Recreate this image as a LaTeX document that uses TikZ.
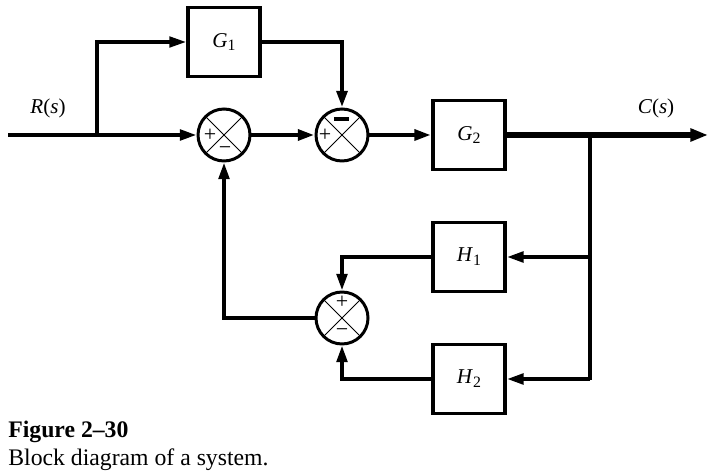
\documentclass[tikz,border=0pt]{standalone}
\usepackage{fontspec}
\setmainfont{Liberation Serif}
\usetikzlibrary{arrows.meta}
\newcommand{\sub}[2]{\textit{#1}\raisebox{-0.4ex}{\fontsize{9}{9}\selectfont #2}}
\begin{document}
\begin{tikzpicture}[x=0.02cm,y=-0.02cm,
  ln/.style={line width=2.1pt},
  >={Triangle[length=9.5pt,width=6pt]},
  blk/.style={draw,line width=2.2pt,minimum width=1.44cm,minimum height=1.38cm,inner sep=0pt,font=\fontsize{12}{12}\selectfont},
  sum/.style={circle,draw,line width=1.7pt,minimum size=1.04cm,inner sep=0pt,
    path picture={\draw[line width=0.45pt] (path picture bounding box.south west) -- (path picture bounding box.north east)
      (path picture bounding box.north west) -- (path picture bounding box.south east);}},
  sgn/.style={inner sep=0pt,font=\fontsize{12.5}{12}\selectfont},
  lbl/.style={inner sep=0pt,font=\fontsize{12}{12}\selectfont}]
\useasboundingbox (0,0) rectangle (715,475);
% nodes
\node[sum] (s1) at (224,135) {};
\node[sum] (s2) at (342,135) {};
\node[sum] (s3) at (342,318) {};
\node[blk] (G1) at (224,42) {\sub{G}{1}};
\node[blk] (G2) at (469,135) {\sub{G}{2}};
\node[blk] (H1) at (469,257) {\sub{H}{1}};
\node[blk] (H2) at (469,379) {\sub{H}{2}};
\coordinate (in) at (8,135);
\coordinate (br1) at (97,135);
\coordinate (br2) at (590,135);
\coordinate (out) at (708,135);
% signs
\node[sgn] (p1) at (210,135) {+};
\node[sgn] (m1) at (225,151) {\textminus};
\node[sgn] (p2) at (325,135) {+};
\node[inner sep=0pt,fill=black,minimum width=0.3cm,minimum height=0.075cm] (m2) at (341,119) {};
\node[sgn] (p3) at (342,302) {+};
\node[sgn] (m3) at (342,333) {\textminus};
% labels
\node[lbl] (R) at (48,108) {\textit{R}(\textit{s})};
\node[lbl] (C) at (656,108) {\textit{C}(\textit{s})};
% connectors
\draw[ln] (in) -- (br1);
\draw[ln,->] (br1) -- (s1.west);
\draw[ln,line width=1.8pt,->] (br1) |- (G1.west);
\draw[ln,line width=2.6pt,->] (G1.east) -| (s2.north);
\draw[ln,line width=2.6pt,->] (s1.east) -- (s2.west);
\draw[ln,line width=2.6pt,->] (s2.east) -- (G2.west);
\draw[line width=3.7pt,->,>={Triangle[length=10pt,width=7pt]}] (G2.east) -- (out);
\draw[line width=2.8pt] (br2) -- ([yshift=-0.7pt]br2 |- H2.east);
\draw[ln,->] (br2 |- H1.east) -- (H1.east);
\draw[ln,->] (br2 |- H2.east) -- (H2.east);
\draw[ln,->] (H1.west) -| (s3.north);
\draw[ln,->] (H2.west) -| (s3.south);
\draw[ln,->] (s3.west) -| (s1.south);
% caption
\node[anchor=base west,inner sep=0pt,font=\fontsize{13.5}{14}\selectfont\bfseries] (fig) at (8,437) {Figure 2–30};
\node[anchor=base west,inner sep=0pt,font=\fontsize{13.5}{14}\selectfont] (cap) at (8,465) {Block diagram of a system.};
\end{tikzpicture}
\end{document}
